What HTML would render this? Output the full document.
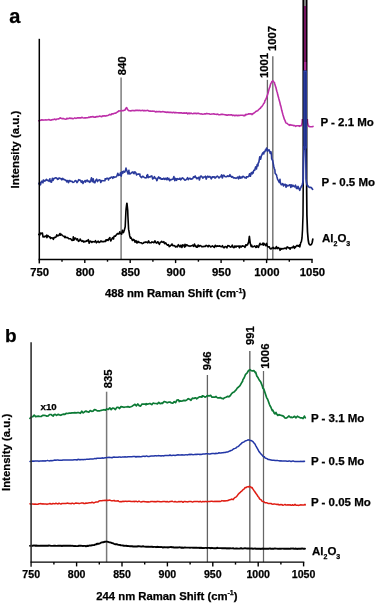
<!DOCTYPE html>
<html><head><meta charset="utf-8"><title>Raman spectra</title>
<style>
html,body{margin:0;padding:0;background:#fff;}
svg{display:block;}
text{fill:#000;}
</style></head>
<body>
<svg width="378" height="604" viewBox="0 0 378 604">
<rect width="378" height="604" fill="#fff"/>
<line x1="121.1" y1="77.5" x2="121.1" y2="259.5" stroke="#7c7c7c" stroke-width="1.5"/>
<line x1="267.4" y1="79.8" x2="267.4" y2="259.5" stroke="#636363" stroke-width="1.3"/>
<line x1="272.8" y1="56.3" x2="272.8" y2="259.5" stroke="#767676" stroke-width="1.5"/>
<polyline points="38.8,120.7 39.8,120.4 40.8,120.3 41.8,119.7 42.8,120.1 43.8,120.0 44.8,120.0 45.8,119.9 46.8,120.0 47.8,119.8 48.8,119.5 49.8,120.0 50.0,120.0 50.8,120.2 51.8,119.7 52.8,119.6 53.8,119.5 54.8,119.1 55.8,119.7 56.8,119.1 57.0,119.0 57.8,119.0 58.8,118.9 59.8,118.3 60.0,117.9 60.8,118.1 61.8,118.6 62.8,118.6 63.8,118.6 64.0,118.7 64.8,119.0 65.8,119.3 66.8,118.4 67.8,118.6 68.8,118.5 69.8,118.0 70.8,118.4 71.8,118.3 72.8,118.8 73.8,118.4 74.8,117.9 75.8,118.4 76.8,118.1 77.8,117.7 78.8,117.9 79.8,117.9 80.0,117.8 80.8,118.0 81.8,117.3 82.8,117.7 83.8,118.0 84.8,117.9 85.8,117.9 86.8,117.8 87.8,117.8 88.8,117.1 89.8,117.5 90.8,116.7 91.8,116.9 92.8,116.5 93.8,117.2 94.8,117.2 95.0,116.8 95.8,117.2 96.8,116.5 97.8,116.6 98.8,116.5 99.8,116.1 100.8,116.4 101.8,116.6 102.8,115.8 103.8,116.1 104.8,115.7 105.8,116.1 106.7,115.6 106.8,115.7 107.8,115.5 108.8,115.1 109.8,114.4 110.8,114.9 111.8,113.9 112.8,113.9 113.8,113.7 114.0,113.3 114.8,113.3 115.8,113.1 116.8,112.4 117.8,111.8 118.8,110.9 119.8,111.0 120.7,110.9 120.8,110.8 121.8,110.6 122.8,110.8 123.8,110.4 124.5,110.3 124.8,110.3 125.8,108.4 126.7,107.6 126.8,108.3 127.8,109.8 128.5,110.3 128.8,110.6 129.8,110.7 130.8,110.9 131.8,110.6 132.8,110.5 133.0,110.4 133.8,110.8 134.8,110.6 135.8,110.4 136.8,110.4 137.8,110.3 138.8,110.6 139.8,110.2 140.0,110.5 140.8,110.6 141.8,110.5 142.8,110.3 143.8,110.9 144.8,110.4 145.8,110.8 146.8,110.5 147.8,110.4 148.8,111.0 149.8,111.1 150.8,111.1 151.8,111.2 152.8,111.1 153.8,111.2 154.8,111.4 155.8,112.0 156.0,111.7 156.8,111.4 157.8,111.8 158.8,111.6 159.8,111.6 160.8,112.0 161.8,111.7 162.8,111.5 163.8,111.7 164.8,112.1 165.8,112.1 166.8,112.5 167.8,112.0 168.8,112.4 169.8,112.4 170.8,112.3 171.8,112.6 172.8,112.6 173.8,112.3 174.8,112.9 175.8,112.4 176.8,112.7 177.8,112.8 178.8,112.9 179.8,112.7 180.8,112.9 181.8,112.9 182.8,113.3 183.8,112.9 184.8,113.1 185.8,113.1 186.8,112.9 187.8,113.9 188.8,113.3 189.0,112.9 189.8,113.7 190.8,113.1 191.8,113.5 192.8,113.7 193.8,113.3 194.8,113.4 195.8,113.4 196.8,113.6 197.8,113.2 198.8,113.4 199.8,113.7 200.8,114.0 201.8,113.9 202.8,114.2 203.8,114.0 204.8,113.7 205.8,113.9 206.8,113.4 207.8,113.7 208.8,113.7 209.8,114.1 210.8,114.2 211.8,114.0 212.8,114.0 213.8,113.8 214.8,114.2 215.8,114.3 216.8,114.4 217.8,114.1 218.8,114.8 219.8,114.7 220.8,114.4 221.8,114.3 222.7,114.4 222.8,114.5 223.8,114.5 224.8,114.7 225.8,114.9 226.8,115.1 227.8,115.1 228.8,114.8 229.8,115.0 230.8,114.9 231.8,114.9 232.8,115.6 233.8,115.1 234.8,115.7 235.8,115.2 236.8,115.4 237.8,115.6 238.8,115.4 239.8,115.5 240.0,115.3 240.8,115.3 241.8,115.3 242.8,115.2 243.8,115.7 244.8,115.2 245.0,115.6 245.8,114.4 246.8,114.6 247.8,114.3 248.8,113.7 249.5,114.0 249.8,113.9 250.8,113.7 251.8,114.0 252.0,114.6 252.8,113.8 253.8,113.2 254.3,112.7 254.8,112.5 255.8,111.5 256.8,111.0 257.8,110.8 258.0,110.3 258.8,109.5 259.8,108.6 260.6,108.0 260.8,107.4 261.8,106.6 262.8,105.1 263.8,103.4 264.6,102.4 264.8,101.0 265.8,99.4 266.3,98.4 266.8,96.8 267.8,94.0 268.8,90.0 269.3,88.1 269.8,87.2 270.2,85.5 270.8,83.6 271.4,82.6 271.8,81.7 272.8,81.0 272.9,80.9 273.8,82.1 274.4,82.4 274.8,84.0 275.7,86.9 275.8,87.0 276.8,91.2 277.3,92.6 277.8,95.1 278.8,98.5 278.9,99.0 279.8,102.3 280.6,105.7 280.8,105.9 281.8,110.6 282.0,111.1 282.8,114.3 283.8,117.5 284.4,119.4 284.8,120.0 285.8,122.6 286.0,123.0 286.8,123.2 287.6,123.8 287.8,124.0 288.8,124.8 289.8,125.3 290.0,124.6 290.8,125.0 291.8,125.1 292.4,125.2 292.8,125.2 293.8,125.8 294.8,125.5 295.8,126.3 296.0,126.1 296.8,125.7 297.8,125.8 298.8,125.9 299.6,126.4 299.8,125.9 300.8,125.7" fill="none" stroke="#bd2fa8" stroke-width="1.6" stroke-linejoin="round" stroke-linecap="round" />
<polyline points="309.0,126.5 310.0,126.8 311.0,126.7 312.0,126.8 313.0,126.4" fill="none" stroke="#bd2fa8" stroke-width="1.6" stroke-linejoin="round" stroke-linecap="round" />
<polyline points="38.8,183.8 39.6,182.4 40.5,184.8 41.4,181.4 42.2,181.4 43.0,182.8 43.3,180.0 43.9,180.3 44.8,181.1 45.6,180.4 46.5,179.4 47.3,180.5 48.1,180.3 49.0,181.3 49.9,178.7 50.0,179.7 50.7,181.7 51.5,182.2 52.4,178.3 53.2,180.3 54.1,178.2 55.0,178.1 55.8,177.8 56.6,178.0 57.5,179.4 58.3,179.1 58.4,178.4 59.2,178.0 60.0,178.5 60.9,178.6 61.8,179.8 62.6,178.4 63.5,179.4 64.0,179.4 64.3,179.5 65.2,180.1 66.0,180.3 66.8,181.8 67.7,180.5 68.5,182.6 69.4,180.6 70.0,180.5 70.2,181.1 71.1,181.4 72.0,181.3 72.8,182.4 73.7,182.3 74.5,181.5 75.3,180.6 76.2,180.9 77.0,182.6 77.9,181.2 78.8,179.6 79.6,180.2 80.5,180.4 81.3,182.3 82.2,180.9 83.0,183.5 83.8,181.7 84.7,181.1 85.0,180.5 85.5,182.1 86.4,180.7 87.2,180.1 88.1,181.6 89.0,181.0 89.8,182.3 90.7,180.8 91.5,177.8 92.3,181.7 93.2,178.8 94.0,182.5 94.9,182.8 95.8,180.3 96.6,179.4 96.7,179.2 97.5,181.6 98.3,180.4 99.2,179.8 100.0,180.1 100.8,182.5 101.7,180.5 102.5,180.8 103.4,180.7 104.2,180.8 105.0,180.7 105.1,178.7 106.0,179.1 106.8,178.3 107.7,178.2 108.5,180.0 109.3,178.0 110.2,178.2 111.0,177.3 111.9,177.1 112.8,178.4 113.3,176.8 113.6,176.7 114.5,177.4 115.3,177.0 116.2,176.9 117.0,175.8 117.8,173.2 118.7,175.4 119.5,174.8 120.0,175.1 120.4,172.9 121.2,176.1 122.1,171.5 123.0,173.1 123.0,172.4 123.8,171.2 124.7,172.1 125.5,170.5 126.0,168.1 126.3,169.4 127.2,171.5 128.1,174.0 128.9,170.3 129.0,172.0 129.8,174.0 130.6,173.5 131.4,172.9 132.3,172.1 133.2,172.0 133.3,173.2 134.0,173.7 134.8,171.8 135.7,172.6 136.6,174.9 137.4,174.2 138.2,173.9 139.1,174.4 139.9,174.1 140.0,176.0 140.8,176.9 141.7,177.6 142.5,176.2 143.3,176.5 144.2,177.4 145.1,177.9 145.9,177.8 146.7,177.6 146.8,175.6 147.6,174.7 148.4,177.6 149.3,176.7 150.2,176.9 151.0,176.2 151.8,175.9 152.7,179.0 153.6,178.1 154.4,176.6 155.2,178.3 156.0,178.3 156.1,178.6 156.9,180.6 157.8,178.2 158.7,176.9 159.5,178.5 160.3,177.8 161.2,179.2 162.1,178.9 162.9,179.1 163.8,178.2 164.6,179.3 165.4,178.4 166.3,179.6 166.7,178.7 167.2,177.8 168.0,179.6 168.8,178.3 169.7,180.7 170.6,179.6 171.4,179.7 172.2,179.3 173.1,179.1 173.9,176.6 174.8,180.6 175.7,178.4 176.5,180.3 177.3,178.6 178.2,179.1 179.1,179.1 179.9,178.2 180.0,179.1 180.8,179.8 181.6,178.8 182.4,177.8 183.3,178.5 184.2,179.4 185.0,180.3 185.8,179.9 186.7,179.2 187.6,177.7 188.4,179.6 189.2,178.6 190.1,178.2 190.9,179.3 191.8,178.9 192.7,178.7 193.5,176.8 194.3,177.3 195.2,176.0 196.1,178.0 196.7,177.8 196.9,178.8 197.8,178.0 198.6,177.3 199.4,180.0 200.3,176.5 201.2,176.1 202.0,176.9 202.8,178.1 203.7,177.1 204.6,177.0 205.4,176.2 206.2,179.1 207.1,176.7 207.9,176.2 208.8,177.2 209.7,176.5 210.5,177.1 211.3,178.8 212.2,176.8 213.1,177.2 213.9,176.8 214.8,177.0 215.0,178.1 215.6,177.8 216.4,176.8 217.3,176.1 218.2,176.9 219.0,178.0 219.8,177.0 220.7,176.8 221.6,174.9 222.4,178.0 223.2,175.2 224.1,175.4 224.9,176.4 225.8,176.8 226.7,176.8 227.5,175.9 228.3,176.4 229.2,176.0 230.0,174.7 230.1,176.4 230.9,176.0 231.8,177.2 232.6,176.6 233.4,177.9 234.3,177.7 235.2,178.0 236.0,178.4 236.8,177.9 237.7,177.0 238.6,178.8 239.4,176.3 240.0,177.3 240.2,178.2 241.1,177.0 241.9,178.0 242.8,176.3 243.7,176.5 244.5,177.6 245.3,177.7 246.2,178.1 246.3,176.7 247.1,176.9 247.9,176.9 248.8,176.3 249.6,173.8 250.0,174.4 250.4,176.3 251.3,172.6 252.2,173.8 252.7,172.0 253.0,173.3 253.8,170.4 254.7,170.3 255.6,166.9 255.9,168.6 256.4,169.0 257.2,164.5 258.0,165.8 258.1,163.5 258.9,162.0 259.8,156.7 260.6,159.2 261.5,155.4 262.0,154.9 262.4,153.5 263.2,152.5 263.8,154.0 264.1,151.7 264.9,151.8 265.5,149.8 265.8,150.1 266.6,148.1 267.1,148.9 267.4,151.4 268.3,150.1 268.7,150.4 269.1,149.8 270.0,152.6 270.2,153.4 270.9,151.8 271.4,154.0 271.7,158.9 272.5,160.3 272.6,160.1 273.4,164.3 273.7,166.2 274.2,168.3 274.9,170.0 275.1,173.3 275.9,174.2 276.5,175.0 276.8,176.4 277.6,179.4 278.1,180.1 278.5,180.9 279.4,182.6 280.0,179.2 280.2,182.1 281.1,184.6 281.9,184.6 282.8,183.6 282.9,183.7 283.6,185.9 284.4,184.6 285.3,184.4 286.1,187.2 286.7,184.9 287.0,186.1 287.9,185.5 288.7,185.7 289.6,184.7 290.4,185.0 290.8,187.4 291.2,184.8 292.1,186.6 292.9,185.1 293.8,186.4 294.6,186.8 295.5,185.2 296.4,188.4 296.7,187.0 297.2,188.6 298.1,186.4 298.9,188.6 299.8,190.3 300.5,188.0" fill="none" stroke="#2a3a9c" stroke-width="1.6" stroke-linejoin="round" stroke-linecap="round" />
<polyline points="308.3,186.5 309.3,187.3 310.0,187.6 310.3,187.4 311.3,187.5 312.3,189.0 312.7,189.3" fill="none" stroke="#2a3a9c" stroke-width="1.6" stroke-linejoin="round" stroke-linecap="round" />
<polyline points="38.8,234.4 39.7,235.3 40.6,233.0 41.5,233.6 42.4,233.0 43.0,236.9 43.3,236.4 44.2,237.0 45.1,236.1 46.0,236.6 46.7,235.1 46.9,237.6 47.8,235.6 48.7,236.4 49.6,237.1 50.0,236.9 50.5,238.4 51.4,237.8 52.3,238.1 53.2,238.1 53.3,239.4 54.1,237.6 55.0,237.4 55.9,237.2 56.8,234.8 57.0,235.6 57.7,235.9 58.6,235.6 59.5,234.2 60.0,233.5 60.4,235.2 61.3,234.4 62.2,235.3 62.5,235.6 63.1,235.9 64.0,236.2 64.9,237.6 65.0,236.4 65.8,237.2 66.7,237.6 67.6,237.5 68.5,238.6 69.0,238.7 69.4,238.7 70.3,238.7 71.2,239.4 72.1,240.5 73.0,240.1 73.3,236.8 73.9,240.3 74.8,238.0 75.7,238.3 76.6,239.9 77.5,238.9 78.4,241.3 79.3,240.8 80.0,239.7 80.2,239.0 81.1,240.7 82.0,241.5 82.9,240.7 83.8,242.2 84.7,241.3 85.6,241.6 86.5,240.7 86.7,241.3 87.4,240.9 88.3,239.6 89.2,243.2 90.1,241.1 91.0,241.4 91.9,242.4 92.8,241.5 93.7,241.7 94.6,241.9 95.5,240.7 96.4,242.8 97.3,241.9 98.2,241.2 99.1,242.4 100.0,242.0 100.9,240.9 101.8,241.7 102.7,241.5 103.6,241.6 104.5,241.4 105.4,241.5 106.0,239.8 106.3,240.7 107.2,239.7 108.1,240.5 109.0,238.7 109.9,237.6 110.0,239.0 110.8,240.9 111.7,239.2 112.6,237.7 113.5,239.0 114.0,236.4 114.4,236.1 115.3,236.2 116.2,235.0 117.1,234.1 117.3,233.6 118.0,233.6 118.9,234.1 119.8,231.8 120.0,232.3 120.7,233.6 121.6,234.2 122.5,230.3 122.7,232.0 123.4,232.6 124.3,230.3 125.0,227.5 125.2,226.7 125.9,211.6 126.1,208.9 126.8,203.3 127.0,203.3 127.7,210.1 127.9,216.0 128.6,229.4 128.8,230.1 129.4,233.8 129.7,235.9 130.5,238.2 130.6,237.1 131.5,238.5 132.4,240.5 133.0,240.2 133.3,239.4 134.2,239.9 135.1,242.2 136.0,240.6 136.9,242.9 137.8,242.6 138.0,241.4 138.7,242.0 139.6,242.5 140.5,242.7 141.4,242.7 142.3,243.6 143.2,243.3 144.1,242.2 145.0,242.5 145.9,241.9 146.8,242.3 147.7,242.8 148.6,240.9 149.5,242.8 150.4,242.7 151.3,242.6 152.0,241.8 152.2,242.3 153.1,242.2 154.0,242.7 154.9,240.8 155.8,242.5 156.7,243.1 157.6,241.9 158.0,241.8 158.5,243.1 159.4,244.3 160.3,242.2 161.2,241.9 161.7,241.3 162.1,242.0 163.0,242.3 163.9,241.7 164.0,242.8 164.8,243.7 165.7,242.9 166.6,244.2 167.5,245.3 168.0,245.3 168.4,244.6 169.3,246.6 170.2,246.0 171.1,245.2 172.0,244.0 172.3,245.3 172.9,245.7 173.8,245.4 174.7,245.7 175.6,247.0 176.5,246.4 177.4,246.9 178.3,244.7 179.2,245.8 180.1,246.9 181.0,245.2 181.9,247.4 182.8,244.8 183.7,245.4 184.6,247.1 185.0,244.2 185.5,246.5 186.4,244.9 187.3,245.0 188.2,246.0 189.1,245.9 190.0,246.4 190.9,245.9 191.8,245.8 192.7,245.1 193.6,246.3 194.5,244.1 195.4,246.6 196.3,246.2 196.7,247.2 197.2,247.2 198.1,245.0 199.0,246.6 199.9,245.5 200.8,245.8 201.7,246.8 202.6,246.6 203.5,246.6 204.4,246.2 205.3,246.4 206.2,245.4 207.1,245.8 208.0,246.8 208.9,245.4 209.8,245.9 210.7,247.0 211.6,246.4 212.5,245.8 213.4,246.7 214.3,247.5 215.0,245.7 215.2,245.3 216.1,246.6 217.0,245.8 217.9,246.3 218.8,246.1 219.7,245.9 220.6,246.5 221.5,246.7 222.4,245.7 223.3,247.4 224.2,247.7 225.1,246.5 226.0,246.8 226.9,247.8 227.8,245.6 228.7,245.8 229.6,246.3 230.0,246.6 230.5,247.1 231.4,246.8 232.3,245.1 233.2,247.5 234.1,247.6 235.0,245.9 235.9,247.1 236.8,246.1 237.7,246.3 238.6,246.1 239.5,247.9 240.0,245.9 240.4,246.6 241.3,247.0 242.2,245.8 243.1,246.2 244.0,246.1 244.9,247.4 245.8,244.7 246.7,245.4 247.6,244.6 248.3,242.7 248.5,243.0 249.3,236.6 249.4,236.4 250.3,243.6 251.2,246.4 251.7,245.3 252.1,246.8 253.0,246.9 253.9,246.4 254.8,245.9 255.7,247.4 256.6,247.2 256.7,245.9 257.5,246.1 258.4,247.4 259.3,244.9 260.0,243.3 260.2,244.6 261.1,244.5 262.0,244.4 262.9,243.2 263.3,245.1 263.8,243.2 264.7,244.2 265.6,245.6 266.0,245.1 266.5,243.4 267.4,246.6 268.3,246.9 269.2,246.7 270.1,248.6 271.0,249.0 271.9,248.1 272.8,247.6 273.3,247.4 273.7,248.6 274.6,248.3 275.5,248.6 276.4,246.6 277.3,248.6 278.2,247.6 279.1,248.2 280.0,250.3 280.9,248.4 281.8,249.2 282.7,248.6 283.6,248.8 284.5,248.3 285.4,248.0 286.3,248.9 287.2,246.9 288.1,247.4 289.0,248.2 289.9,247.8 290.0,249.3 290.8,247.7 291.7,247.5 292.6,247.7 293.5,246.1 294.4,248.3 295.0,246.8 295.3,247.5 296.2,246.1 297.1,245.4 298.0,246.1 298.3,245.8 298.9,246.1 299.5,244.8 299.8,246.9 300.5,243.9 300.7,242.5 301.3,242.0" fill="none" stroke="#000" stroke-width="1.6" stroke-linejoin="round" stroke-linecap="round" />
<polyline points="300.8,126.1 301.6,125 302.1,122.6 302.3,119" fill="none" stroke="#bd2fa8" stroke-width="1.5" stroke-linejoin="round"/>
<polyline points="307.4,119 307.6,122.6 308.2,125.3 309.0,126.5" fill="none" stroke="#bd2fa8" stroke-width="1.5" stroke-linejoin="round"/>
<rect x="303.5" y="0" width="2.7" height="150" fill="#000"/>
<polyline points="303.2,-1 303.2,190 303.0,215 302.5,230 302.0,238 301.3,242" fill="none" stroke="#000" stroke-width="1.55" stroke-linejoin="round"/>
<polyline points="306.65,-1 306.65,190 306.9,215 307.5,232 308.2,240 308.8,243.4 309.5,244.6 310.5,244.9 311.5,244.3 312.2,242.5 312.8,239.2" fill="none" stroke="#000" stroke-width="1.7" stroke-linejoin="round" stroke-linecap="round"/>
<rect x="304.1" y="0" width="1.8" height="6" fill="#8a8a8a"/>
<rect x="304.0" y="6" width="2.1" height="56" fill="#74155f"/>
<rect x="304.0" y="62" width="2.3" height="8.5" fill="#a82a92"/>
<rect x="303.4" y="70.5" width="3.4" height="78" fill="#3148b4"/>
<rect x="304.7" y="72" width="0.9" height="76" fill="#1a2272"/>
<polyline points="304.1,146 303.6,158 303.3,170 303.2,179 302.9,182.5 302.3,184.8 301.5,186.5 300.5,187.6" fill="none" stroke="#2a3a9c" stroke-width="1.8" stroke-linejoin="round"/>
<polyline points="305.5,146 305.8,158 306.0,170 306.1,179 306.5,182.5 307.2,185 308.3,186.6" fill="none" stroke="#2a3a9c" stroke-width="1.7" stroke-linejoin="round"/>
<line x1="39.3" y1="38.8" x2="39.3" y2="263.4" stroke="#000" stroke-width="1.5"/>
<line x1="38.599999999999994" y1="259.5" x2="312.7" y2="259.5" stroke="#000" stroke-width="1.4"/>
<line x1="62.0" y1="259.5" x2="62.0" y2="261.7" stroke="#000" stroke-width="1.4"/>
<line x1="84.8" y1="259.5" x2="84.8" y2="263.1" stroke="#000" stroke-width="1.4"/>
<line x1="107.5" y1="259.5" x2="107.5" y2="261.7" stroke="#000" stroke-width="1.4"/>
<line x1="130.2" y1="259.5" x2="130.2" y2="263.1" stroke="#000" stroke-width="1.4"/>
<line x1="152.9" y1="259.5" x2="152.9" y2="261.7" stroke="#000" stroke-width="1.4"/>
<line x1="175.6" y1="259.5" x2="175.6" y2="263.1" stroke="#000" stroke-width="1.4"/>
<line x1="198.4" y1="259.5" x2="198.4" y2="261.7" stroke="#000" stroke-width="1.4"/>
<line x1="221.1" y1="259.5" x2="221.1" y2="263.1" stroke="#000" stroke-width="1.4"/>
<line x1="243.8" y1="259.5" x2="243.8" y2="261.7" stroke="#000" stroke-width="1.4"/>
<line x1="266.6" y1="259.5" x2="266.6" y2="263.1" stroke="#000" stroke-width="1.4"/>
<line x1="289.3" y1="259.5" x2="289.3" y2="261.7" stroke="#000" stroke-width="1.4"/>
<line x1="312.0" y1="259.5" x2="312.0" y2="263.1" stroke="#000" stroke-width="1.4"/>
<text x="39.7" y="276.2" font-size="11.3" text-anchor="middle" font-family="'Liberation Sans', Arial, Helvetica, sans-serif" font-weight="bold" stroke="#000" stroke-width="0.25">750</text>
<text x="85.2" y="276.2" font-size="11.3" text-anchor="middle" font-family="'Liberation Sans', Arial, Helvetica, sans-serif" font-weight="bold" stroke="#000" stroke-width="0.25">800</text>
<text x="130.6" y="276.2" font-size="11.3" text-anchor="middle" font-family="'Liberation Sans', Arial, Helvetica, sans-serif" font-weight="bold" stroke="#000" stroke-width="0.25">850</text>
<text x="176.0" y="276.2" font-size="11.3" text-anchor="middle" font-family="'Liberation Sans', Arial, Helvetica, sans-serif" font-weight="bold" stroke="#000" stroke-width="0.25">900</text>
<text x="221.5" y="276.2" font-size="11.3" text-anchor="middle" font-family="'Liberation Sans', Arial, Helvetica, sans-serif" font-weight="bold" stroke="#000" stroke-width="0.25">950</text>
<text x="266.9" y="276.2" font-size="11.3" text-anchor="middle" font-family="'Liberation Sans', Arial, Helvetica, sans-serif" font-weight="bold" stroke="#000" stroke-width="0.25">1000</text>
<text x="312.4" y="276.2" font-size="11.3" text-anchor="middle" font-family="'Liberation Sans', Arial, Helvetica, sans-serif" font-weight="bold" stroke="#000" stroke-width="0.25">1050</text>
<text x="175.5" y="297" font-size="11.3" text-anchor="middle" font-family="'Liberation Sans', Arial, Helvetica, sans-serif" font-weight="bold" stroke="#000" stroke-width="0.25">488 nm Raman Shift (cm<tspan font-size="7" dy="-4.5">-1</tspan><tspan dy="4.5">)</tspan></text>
<text transform="translate(18.6,149.6) rotate(-90)" font-size="11.5" text-anchor="middle" font-family="'Liberation Sans', Arial, Helvetica, sans-serif" font-weight="bold" stroke="#000" stroke-width="0.25">Intensity (a.u.)</text>
<text x="9.3" y="23.1" font-size="20" font-family="'Liberation Sans', Arial, Helvetica, sans-serif" font-weight="bold" stroke="#000" stroke-width="0.25">a</text>
<text transform="translate(126.1,75.2) rotate(-90)" font-size="11.3" font-family="'Liberation Sans', Arial, Helvetica, sans-serif" font-weight="bold" stroke="#000" stroke-width="0.25">840</text>
<text transform="translate(268.1,78) rotate(-90)" font-size="11.3" font-family="'Liberation Sans', Arial, Helvetica, sans-serif" font-weight="bold" stroke="#000" stroke-width="0.25">1001</text>
<text transform="translate(276.0,51.0) rotate(-90)" font-size="11.3" font-family="'Liberation Sans', Arial, Helvetica, sans-serif" font-weight="bold" stroke="#000" stroke-width="0.25">1007</text>
<text x="320.4" y="126.4" font-size="11.5" font-family="'Liberation Sans', Arial, Helvetica, sans-serif" font-weight="bold" stroke="#000" stroke-width="0.25">P - 2.1 Mo</text>
<text x="321.6" y="186.0" font-size="11.5" font-family="'Liberation Sans', Arial, Helvetica, sans-serif" font-weight="bold" stroke="#000" stroke-width="0.25">P - 0.5 Mo</text>
<text x="322" y="242.4" font-size="11.5" font-family="'Liberation Sans', Arial, Helvetica, sans-serif" font-weight="bold" stroke="#000" stroke-width="0.25">Al<tspan font-size="7" dy="3.8">2</tspan><tspan dy="-3.8">O</tspan><tspan font-size="7" dy="3.8">3</tspan></text>
<line x1="106.6" y1="391.7" x2="106.6" y2="562.1" stroke="#787878" stroke-width="1.5"/>
<line x1="207.4" y1="375" x2="207.4" y2="562.1" stroke="#636363" stroke-width="1.3"/>
<line x1="249.8" y1="351" x2="249.8" y2="562.1" stroke="#767676" stroke-width="1.6"/>
<line x1="263.5" y1="371" x2="263.5" y2="562.1" stroke="#666" stroke-width="1.25"/>
<polyline points="30.0,418.4 31.4,417.0 32.8,416.7 34.2,415.2 35.6,416.7 37.0,416.4 38.4,416.1 39.8,416.5 41.2,416.5 42.6,415.4 44.0,415.3 45.4,415.5 46.8,416.1 48.2,415.9 49.6,414.5 51.0,414.5 52.4,415.6 53.3,416.0 53.8,414.9 55.2,414.4 56.6,415.4 58.0,414.3 59.4,414.9 60.8,415.3 62.2,414.5 63.6,414.1 65.0,414.3 66.4,413.3 67.8,413.5 69.2,413.1 70.6,413.2 72.0,412.9 73.4,412.9 74.8,412.7 76.2,412.8 77.6,412.7 79.0,412.7 80.4,413.3 81.8,411.2 83.2,412.9 84.6,411.8 86.0,411.0 86.7,411.6 87.4,411.7 88.8,412.2 90.2,410.6 91.6,411.3 93.0,411.1 94.4,409.7 95.8,409.9 97.2,410.9 98.6,410.8 100.0,410.8 101.4,410.3 102.8,410.0 104.2,409.7 105.6,410.2 106.7,408.8 107.0,409.2 108.4,409.3 109.8,407.9 111.2,409.6 112.6,408.0 114.0,408.3 115.4,409.5 116.8,407.4 118.2,407.4 119.6,408.5 121.0,406.6 122.4,406.9 123.8,407.3 125.2,407.0 126.6,406.9 128.0,406.6 129.4,407.1 130.8,406.7 132.2,406.2 133.3,405.3 133.6,405.2 135.0,404.3 136.4,405.8 137.8,404.0 139.2,405.6 140.6,406.1 142.0,404.0 143.4,404.1 144.8,404.1 146.0,404.8 146.2,403.7 147.6,404.1 149.0,403.7 150.4,403.7 151.8,404.6 153.2,403.0 154.6,403.5 156.0,403.5 157.4,403.8 158.8,402.3 160.2,403.7 161.6,403.1 162.7,403.3 163.0,402.7 164.4,401.5 165.8,402.0 167.2,402.8 168.6,402.2 170.0,402.0 171.4,403.0 172.8,403.2 174.2,401.6 175.6,402.7 177.0,400.0 178.4,399.8 179.3,401.6 179.8,400.8 181.2,401.1 182.6,400.9 184.0,400.3 185.4,400.6 186.8,400.0 188.2,398.6 189.6,399.5 190.0,399.4 191.0,400.3 192.4,398.1 193.8,398.5 195.2,397.9 196.0,397.9 196.6,398.9 198.0,397.8 199.4,396.9 200.8,396.9 202.0,397.1 202.2,395.9 203.6,396.1 205.0,397.1 206.4,396.5 207.0,395.9 207.8,395.6 209.2,396.0 210.6,395.3 212.0,397.2 213.4,397.1 214.8,397.2 216.0,396.5 216.2,396.9 217.6,397.9 219.0,397.9 220.4,397.6 221.8,398.4 223.2,398.8 224.3,397.8 224.6,397.8 226.0,397.3 227.4,396.4 228.8,396.8 229.3,396.3 230.2,395.7 231.6,393.6 233.0,392.4 234.4,391.7 235.8,390.0 236.0,390.1 237.2,388.1 238.6,387.0 240.0,385.6 241.4,383.1 242.7,381.0 242.8,379.9 244.2,377.8 245.6,374.3 247.0,373.1 248.4,370.7 249.8,369.8 250.0,369.7 251.2,370.7 252.6,370.8 253.0,370.9 254.0,370.6 255.4,372.8 255.7,372.2 256.8,376.0 258.1,377.8 258.2,378.2 259.6,380.7 260.5,381.5 261.0,382.6 262.4,386.3 262.9,388.4 263.8,389.0 265.2,393.3 266.6,397.6 267.6,399.2 268.0,400.2 269.4,404.3 270.0,405.8 270.8,407.0 272.2,410.5 272.4,409.7 273.6,411.7 274.2,413.1 275.0,413.9 276.0,412.5 276.4,413.5 277.8,415.4 279.2,414.6 280.0,415.2 280.6,415.2 282.0,415.6 283.4,416.1 284.3,417.1 284.8,417.9 286.2,418.1 287.6,417.2 289.0,416.0 290.4,417.3 291.8,417.2 292.0,417.6 293.2,417.3 294.6,416.3 296.0,417.8 297.4,416.2 298.8,417.1 300.2,417.8 301.6,417.8 303.0,418.6 304.4,416.1 305.3,417.8" fill="none" stroke="#0c7a35" stroke-width="1.7" stroke-linejoin="round" stroke-linecap="round" />
<polyline points="30.0,461.4 31.0,461.2 32.0,461.3 33.0,461.0 34.0,461.3 35.0,460.9 36.0,461.1 37.0,461.1 38.0,460.9 39.0,461.4 40.0,460.9 41.0,461.0 42.0,461.1 43.0,460.7 44.0,461.1 45.0,460.8 46.0,460.9 47.0,460.6 48.0,460.6 49.0,460.9 50.0,460.7 51.0,460.6 52.0,460.7 53.0,460.6 54.0,460.3 55.0,460.1 56.0,460.2 57.0,460.1 58.0,460.0 59.0,460.2 60.0,460.2 61.0,460.3 62.0,460.3 63.0,460.1 64.0,460.1 65.0,460.1 66.0,459.9 67.0,460.0 68.0,460.0 69.0,459.9 70.0,459.9 71.0,459.9 72.0,460.1 73.0,459.9 74.0,459.8 75.0,459.7 76.0,459.7 77.0,460.1 78.0,459.2 79.0,459.7 80.0,459.6 81.0,459.7 82.0,459.4 83.0,459.8 84.0,459.6 85.0,459.4 86.0,459.4 86.7,459.2 87.0,459.3 88.0,459.2 89.0,459.3 90.0,459.1 91.0,459.0 92.0,459.0 93.0,458.9 94.0,458.8 95.0,458.4 96.0,458.7 97.0,458.3 98.0,458.2 99.0,458.3 100.0,458.3 101.0,458.3 102.0,457.8 103.0,458.2 104.0,458.1 105.0,457.7 106.0,457.7 106.7,457.6 107.0,457.6 108.0,457.4 109.0,457.3 110.0,457.5 111.0,457.5 112.0,457.7 113.0,457.3 114.0,457.1 115.0,457.3 116.0,457.2 117.0,457.3 118.0,457.2 119.0,457.0 120.0,457.0 121.0,457.2 122.0,457.1 123.0,456.9 124.0,457.1 125.0,456.8 126.0,456.9 127.0,456.9 128.0,456.7 129.0,456.7 130.0,456.8 131.0,456.8 132.0,456.7 133.0,456.6 134.0,456.5 135.0,456.5 136.0,457.1 137.0,456.5 138.0,456.8 139.0,456.5 140.0,456.7 141.0,456.7 142.0,456.5 143.0,456.3 144.0,456.2 145.0,456.5 146.0,456.1 147.0,456.1 148.0,456.5 149.0,456.4 150.0,456.2 151.0,456.1 152.0,456.0 153.0,456.1 154.0,455.9 155.0,455.7 156.0,455.8 157.0,455.9 158.0,455.6 159.0,455.7 160.0,455.8 161.0,456.0 162.0,455.7 163.0,455.7 164.0,455.9 165.0,455.4 166.0,455.4 167.0,455.6 168.0,455.6 169.0,455.5 170.0,455.0 171.0,455.5 172.0,455.4 173.0,455.3 174.0,455.3 175.0,455.4 176.0,455.2 177.0,455.0 178.0,454.8 179.0,455.0 180.0,454.9 181.0,454.9 182.0,454.8 183.0,454.9 184.0,455.0 185.0,454.9 186.0,454.6 187.0,454.9 188.0,454.8 189.0,454.3 190.0,454.7 191.0,454.3 192.0,454.4 193.0,454.7 194.0,454.6 195.0,454.4 196.0,454.3 197.0,454.5 198.0,454.1 199.0,454.4 200.0,454.2 201.0,454.4 202.0,454.2 203.0,454.0 204.0,454.1 205.0,454.0 206.0,453.8 207.0,453.8 208.0,453.8 209.0,453.9 210.0,453.9 211.0,453.7 212.0,453.5 213.0,453.6 214.0,453.6 215.0,453.7 216.0,453.3 217.0,453.4 218.0,453.2 219.0,452.8 220.0,452.9 221.0,452.9 222.0,452.8 223.0,452.7 224.0,452.5 225.0,452.5 226.0,452.2 227.0,451.9 228.0,451.9 229.0,451.3 230.0,451.1 231.0,450.4 232.0,450.2 233.0,449.3 234.0,448.7 235.0,448.4 236.0,448.0 237.0,446.9 238.0,446.6 239.0,445.8 240.0,444.8 241.0,443.9 242.0,442.8 242.7,442.5 243.0,442.4 244.0,441.9 245.0,441.2 246.0,440.7 247.0,440.4 248.0,439.8 248.7,440.1 249.0,439.9 250.0,440.4 251.0,440.6 251.5,440.7 252.0,441.0 253.0,441.7 254.0,443.0 254.3,443.1 255.0,444.2 256.0,446.1 257.0,447.8 258.0,449.7 259.0,451.7 259.3,451.8 260.0,452.8 261.0,453.9 262.0,455.0 263.0,456.3 264.0,456.9 264.3,456.8 265.0,457.8 266.0,458.3 267.0,458.6 268.0,459.4 269.0,459.5 270.0,459.7 271.0,459.9 272.0,460.3 273.0,460.2 274.0,460.3 275.0,460.4 276.0,460.5 277.0,460.4 278.0,460.6 279.0,460.7 280.0,461.0 281.0,460.7 282.0,461.1 282.7,460.9 283.0,460.9 284.0,461.0 285.0,461.1 286.0,461.1 287.0,461.2 288.0,461.2 289.0,461.0 290.0,461.1 291.0,461.5 292.0,461.2 293.0,460.9 294.0,461.3 295.0,461.6 296.0,461.5 297.0,461.4 298.0,461.4 299.0,461.5 300.0,461.4 301.0,461.3 302.0,461.6 303.0,461.3 304.0,461.6 304.5,461.2" fill="none" stroke="#2236a6" stroke-width="1.5" stroke-linejoin="round" stroke-linecap="round" />
<polyline points="30.0,503.8 31.0,504.2 32.0,504.0 33.0,504.1 34.0,504.3 35.0,504.1 36.0,504.3 37.0,504.2 38.0,504.3 39.0,503.7 40.0,503.7 41.0,503.6 42.0,504.0 43.0,503.8 44.0,504.1 45.0,503.9 46.0,503.9 47.0,504.4 48.0,503.9 49.0,503.8 50.0,503.5 51.0,504.0 52.0,504.0 53.0,503.4 54.0,503.7 55.0,503.7 56.0,503.3 57.0,503.6 58.0,504.0 59.0,503.2 60.0,503.7 61.0,504.1 62.0,503.4 63.0,503.4 64.0,503.6 65.0,503.6 66.0,503.6 67.0,503.1 68.0,503.3 69.0,503.5 70.0,503.4 71.0,503.7 72.0,503.3 73.0,503.3 74.0,503.8 75.0,503.3 76.0,503.1 77.0,503.3 78.0,503.2 79.0,503.4 80.0,503.4 81.0,503.1 82.0,503.1 83.0,503.0 84.0,503.5 85.0,503.6 86.0,503.0 87.0,503.2 88.0,503.1 89.0,502.8 90.0,502.7 91.0,502.7 92.0,502.3 93.0,502.5 93.3,502.8 94.0,502.9 95.0,502.4 96.0,502.0 97.0,502.0 98.0,502.0 99.0,501.0 100.0,500.8 101.0,500.7 102.0,500.8 103.0,500.4 104.0,500.6 105.0,500.2 106.0,500.5 106.7,500.2 107.0,500.2 108.0,500.5 109.0,500.1 110.0,500.2 111.0,500.7 112.0,500.8 113.0,500.8 114.0,500.3 115.0,501.1 116.0,501.1 117.0,501.0 118.0,500.7 119.0,501.5 120.0,501.7 121.0,501.5 122.0,501.7 123.0,501.2 124.0,501.5 125.0,501.3 126.0,501.2 127.0,501.4 128.0,501.3 129.0,501.3 130.0,501.3 131.0,501.5 132.0,501.5 133.0,501.6 134.0,501.3 135.0,501.7 136.0,501.2 137.0,501.7 138.0,501.7 139.0,501.1 140.0,501.6 141.0,502.0 142.0,501.8 143.0,501.6 144.0,501.6 145.0,501.8 146.0,501.7 147.0,501.9 148.0,501.7 149.0,501.9 150.0,501.8 151.0,501.5 152.0,501.4 153.0,501.6 154.0,501.8 155.0,501.5 156.0,501.9 157.0,501.3 158.0,501.6 159.0,501.5 160.0,501.8 161.0,501.7 162.0,501.7 163.0,501.4 164.0,501.5 165.0,501.5 166.0,501.9 167.0,501.5 168.0,501.8 169.0,501.9 170.0,501.5 171.0,501.6 172.0,501.1 173.0,501.6 174.0,501.9 175.0,501.5 176.0,501.8 177.0,501.9 178.0,501.8 179.0,501.6 180.0,501.8 181.0,501.5 182.0,501.6 183.0,502.3 184.0,501.6 185.0,501.5 186.0,501.7 187.0,501.8 188.0,501.9 189.0,501.5 190.0,501.4 191.0,501.4 192.0,501.9 193.0,501.9 194.0,501.5 195.0,501.5 196.0,501.6 197.0,501.4 198.0,501.5 199.0,501.9 200.0,501.3 201.0,501.7 202.0,501.9 203.0,501.3 204.0,501.8 205.0,501.6 206.0,501.4 207.0,501.8 208.0,501.5 209.0,501.5 210.0,501.4 211.0,501.3 212.0,501.3 213.0,501.4 214.0,501.6 215.0,501.3 216.0,501.4 217.0,501.2 218.0,501.4 219.0,501.2 220.0,501.5 221.0,501.2 222.0,500.6 223.0,500.9 224.0,500.8 225.0,501.0 226.0,500.7 227.0,500.8 228.0,500.6 229.0,500.0 230.0,499.8 231.0,499.6 232.0,499.0 233.0,499.7 234.0,498.6 234.3,498.0 235.0,497.5 236.0,497.1 237.0,496.0 238.0,494.6 239.0,493.4 240.0,492.7 241.0,491.6 242.0,490.8 243.0,489.7 244.0,489.1 245.0,487.6 246.0,487.7 247.0,486.9 248.0,486.6 249.0,487.0 249.3,486.2 250.0,486.8 251.0,487.1 251.5,487.8 252.0,487.5 253.0,489.2 254.0,490.7 254.3,491.0 255.0,492.0 256.0,493.5 257.0,494.8 258.0,496.5 259.0,497.5 259.3,498.5 260.0,499.3 261.0,499.7 262.0,501.2 263.0,501.6 264.0,501.8 264.3,502.1 265.0,502.7 266.0,502.8 267.0,502.8 268.0,503.4 269.0,503.4 270.0,503.5 271.0,503.5 272.0,504.0 273.0,504.2 274.0,503.9 275.0,504.1 276.0,504.2 277.0,504.4 278.0,504.2 279.0,505.0 280.0,504.6 281.0,504.8 282.0,504.6 283.0,505.3 284.0,504.9 285.0,504.4 286.0,505.1 287.0,504.9 288.0,504.7 289.0,504.9 290.0,504.8 291.0,505.2 292.0,505.2 292.7,504.7 293.0,505.2 294.0,505.3 295.0,504.4 296.0,505.3 297.0,505.2 298.0,505.2 299.0,505.4 300.0,505.0 301.0,504.8 302.0,505.1 303.0,505.0 304.0,505.1 305.0,504.4 305.3,504.9" fill="none" stroke="#df1c12" stroke-width="1.5" stroke-linejoin="round" stroke-linecap="round" />
<polyline points="30.0,545.9 31.0,545.7 32.0,545.7 33.0,545.7 34.0,545.4 35.0,545.7 36.0,545.5 37.0,545.7 38.0,545.6 39.0,545.9 40.0,545.7 41.0,545.7 42.0,545.6 43.0,545.8 44.0,545.7 45.0,545.8 46.0,545.8 47.0,545.8 48.0,545.7 49.0,545.5 50.0,545.6 51.0,545.9 52.0,545.9 53.0,545.9 54.0,545.7 55.0,545.6 56.0,545.9 57.0,545.9 58.0,545.8 59.0,545.8 60.0,545.6 61.0,545.8 62.0,546.0 63.0,545.7 64.0,545.8 65.0,545.8 66.0,545.8 67.0,545.6 68.0,545.8 69.0,545.8 70.0,545.8 71.0,545.8 72.0,545.9 73.0,545.8 74.0,546.1 75.0,545.9 76.0,546.1 77.0,546.1 78.0,546.0 79.0,545.8 80.0,545.7 81.0,545.8 82.0,545.9 83.0,546.0 84.0,545.9 85.0,545.9 86.0,546.4 86.7,546.0 87.0,545.8 88.0,546.0 89.0,545.7 90.0,545.4 91.0,545.6 92.0,545.2 93.0,545.1 94.0,545.1 95.0,544.6 96.0,544.3 96.7,544.4 97.0,543.8 98.0,543.7 99.0,543.7 100.0,543.3 101.0,542.7 102.0,542.4 103.0,542.3 104.0,542.0 105.0,541.8 106.0,541.6 107.0,541.6 108.0,541.9 109.0,542.2 110.0,542.4 111.0,542.7 112.0,543.1 113.0,543.2 114.0,543.8 115.0,544.2 116.0,544.1 117.0,544.3 118.0,544.7 119.0,544.9 120.0,545.0 121.0,545.4 122.0,545.4 123.0,545.5 124.0,545.9 125.0,545.8 126.0,545.9 126.7,545.7 127.0,546.0 128.0,546.0 129.0,546.1 130.0,546.3 131.0,546.3 132.0,546.1 133.0,546.5 134.0,546.4 135.0,546.5 136.0,546.4 137.0,546.5 138.0,546.3 139.0,546.3 140.0,546.4 141.0,546.5 142.0,546.6 143.0,546.2 144.0,546.6 145.0,546.6 146.0,546.8 147.0,546.6 148.0,546.7 149.0,546.8 150.0,546.9 151.0,546.6 152.0,546.7 153.0,547.0 154.0,546.9 155.0,546.9 156.0,547.2 157.0,546.8 158.0,547.0 159.0,547.0 160.0,547.1 161.0,547.0 162.0,547.1 163.0,547.5 164.0,547.2 165.0,547.2 166.0,547.4 167.0,547.3 168.0,547.5 169.0,547.2 170.0,547.1 171.0,547.0 172.0,547.2 173.0,547.1 174.0,547.6 175.0,547.4 176.0,547.5 177.0,547.5 178.0,547.5 179.0,547.4 180.0,547.3 181.0,547.7 182.0,547.5 183.0,547.8 184.0,547.7 185.0,547.4 186.0,547.6 187.0,547.6 188.0,547.6 189.0,547.6 190.0,547.7 191.0,547.6 192.0,547.6 193.0,547.8 194.0,547.8 195.0,547.7 196.0,547.8 197.0,547.8 198.0,547.9 199.0,547.8 200.0,548.0 201.0,547.6 202.0,548.1 203.0,547.9 204.0,548.1 205.0,547.9 206.0,547.9 207.0,548.0 208.0,547.9 209.0,547.9 210.0,548.0 211.0,548.2 212.0,547.8 213.0,548.1 214.0,548.3 215.0,548.1 216.0,548.3 217.0,547.8 218.0,548.0 219.0,548.1 220.0,548.1 221.0,548.1 222.0,548.3 223.0,548.1 224.0,548.3 225.0,548.3 226.0,548.2 227.0,548.6 228.0,548.2 229.0,548.6 230.0,548.2 231.0,548.4 232.0,548.4 233.0,548.3 234.0,548.5 235.0,548.6 236.0,548.5 237.0,548.5 238.0,548.6 239.0,548.6 240.0,548.5 241.0,548.1 242.0,548.5 243.0,548.6 244.0,548.4 245.0,548.2 246.0,548.4 247.0,548.5 248.0,548.4 249.0,548.5 250.0,548.6 251.0,548.5 252.0,548.5 253.0,548.8 254.0,548.6 255.0,548.5 256.0,548.7 257.0,548.7 258.0,548.7 259.0,548.7 260.0,548.6 261.0,549.0 262.0,548.5 263.0,548.7 264.0,548.8 265.0,548.8 266.0,548.6 267.0,548.7 268.0,548.6 269.0,548.7 270.0,548.4 271.0,548.9 272.0,548.7 273.0,548.8 274.0,548.7 275.0,548.4 276.0,548.6 277.0,548.6 278.0,548.9 279.0,548.7 280.0,548.8 281.0,548.7 282.0,548.6 283.0,548.6 284.0,548.8 285.0,548.8 286.0,548.6 287.0,548.7 288.0,548.7 289.0,548.8 290.0,548.9 291.0,548.5 292.0,548.6 293.0,548.4 294.0,548.9 295.0,548.7 296.0,548.5 297.0,549.0 298.0,548.7 299.0,548.7 300.0,548.7 301.0,548.8 302.0,548.4 303.0,548.7 304.0,548.8 305.0,548.7" fill="none" stroke="#000" stroke-width="1.9" stroke-linejoin="round" stroke-linecap="round" />
<line x1="31.1" y1="342.2" x2="31.1" y2="566.7" stroke="#333" stroke-width="1.6"/>
<line x1="30.5" y1="562.1" x2="304.3" y2="562.1" stroke="#000" stroke-width="1.4"/>
<line x1="53.9" y1="562.1" x2="53.9" y2="564.6" stroke="#000" stroke-width="1.4"/>
<line x1="76.6" y1="562.1" x2="76.6" y2="566.4" stroke="#000" stroke-width="1.4"/>
<line x1="99.3" y1="562.1" x2="99.3" y2="564.6" stroke="#000" stroke-width="1.4"/>
<line x1="122.0" y1="562.1" x2="122.0" y2="566.4" stroke="#000" stroke-width="1.4"/>
<line x1="144.7" y1="562.1" x2="144.7" y2="564.6" stroke="#000" stroke-width="1.4"/>
<line x1="167.4" y1="562.1" x2="167.4" y2="566.4" stroke="#000" stroke-width="1.4"/>
<line x1="190.1" y1="562.1" x2="190.1" y2="564.6" stroke="#000" stroke-width="1.4"/>
<line x1="212.8" y1="562.1" x2="212.8" y2="566.4" stroke="#000" stroke-width="1.4"/>
<line x1="235.5" y1="562.1" x2="235.5" y2="564.6" stroke="#000" stroke-width="1.4"/>
<line x1="258.2" y1="562.1" x2="258.2" y2="566.4" stroke="#000" stroke-width="1.4"/>
<line x1="280.9" y1="562.1" x2="280.9" y2="564.6" stroke="#000" stroke-width="1.4"/>
<line x1="303.6" y1="562.1" x2="303.6" y2="566.4" stroke="#000" stroke-width="1.4"/>
<text x="31.2" y="578.4" font-size="10.6" text-anchor="middle" font-family="'Liberation Sans', Arial, Helvetica, sans-serif" font-weight="bold" stroke="#000" stroke-width="0.25">750</text>
<text x="76.6" y="578.4" font-size="10.6" text-anchor="middle" font-family="'Liberation Sans', Arial, Helvetica, sans-serif" font-weight="bold" stroke="#000" stroke-width="0.25">800</text>
<text x="122.0" y="578.4" font-size="10.6" text-anchor="middle" font-family="'Liberation Sans', Arial, Helvetica, sans-serif" font-weight="bold" stroke="#000" stroke-width="0.25">850</text>
<text x="167.4" y="578.4" font-size="10.6" text-anchor="middle" font-family="'Liberation Sans', Arial, Helvetica, sans-serif" font-weight="bold" stroke="#000" stroke-width="0.25">900</text>
<text x="212.8" y="578.4" font-size="10.6" text-anchor="middle" font-family="'Liberation Sans', Arial, Helvetica, sans-serif" font-weight="bold" stroke="#000" stroke-width="0.25">950</text>
<text x="258.2" y="578.4" font-size="10.6" text-anchor="middle" font-family="'Liberation Sans', Arial, Helvetica, sans-serif" font-weight="bold" stroke="#000" stroke-width="0.25">1000</text>
<text x="303.6" y="578.4" font-size="10.6" text-anchor="middle" font-family="'Liberation Sans', Arial, Helvetica, sans-serif" font-weight="bold" stroke="#000" stroke-width="0.25">1050</text>
<text x="166.9" y="599.6" font-size="11.3" text-anchor="middle" font-family="'Liberation Sans', Arial, Helvetica, sans-serif" font-weight="bold" stroke="#000" stroke-width="0.25">244 nm Raman Shift (cm<tspan font-size="7" dy="-4.5">-1</tspan><tspan dy="4.5">)</tspan></text>
<text transform="translate(9.9,452.4) rotate(-90)" font-size="11.4" text-anchor="middle" font-family="'Liberation Sans', Arial, Helvetica, sans-serif" font-weight="bold" stroke="#000" stroke-width="0.25">Intensity (a.u.)</text>
<text x="5.1" y="342.2" font-size="19" font-family="'Liberation Sans', Arial, Helvetica, sans-serif" font-weight="bold" stroke="#000" stroke-width="0.25">b</text>
<text transform="translate(111.7,388.2) rotate(-90)" font-size="11.3" font-family="'Liberation Sans', Arial, Helvetica, sans-serif" font-weight="bold" stroke="#000" stroke-width="0.25">835</text>
<text transform="translate(211.0,370.3) rotate(-90)" font-size="11.3" font-family="'Liberation Sans', Arial, Helvetica, sans-serif" font-weight="bold" stroke="#000" stroke-width="0.25">946</text>
<text transform="translate(254.1,345.1) rotate(-90)" font-size="11.3" font-family="'Liberation Sans', Arial, Helvetica, sans-serif" font-weight="bold" stroke="#000" stroke-width="0.25">991</text>
<text transform="translate(269.2,368.7) rotate(-90)" font-size="11.3" font-family="'Liberation Sans', Arial, Helvetica, sans-serif" font-weight="bold" stroke="#000" stroke-width="0.25">1006</text>
<text x="40.6" y="410" font-size="9.7" font-family="'Liberation Sans', Arial, Helvetica, sans-serif" font-weight="bold" stroke="#000" stroke-width="0.25">x10</text>
<text x="310.9" y="422.4" font-size="11.5" font-family="'Liberation Sans', Arial, Helvetica, sans-serif" font-weight="bold" stroke="#000" stroke-width="0.25">P - 3.1 Mo</text>
<text x="310.9" y="465.2" font-size="11.5" font-family="'Liberation Sans', Arial, Helvetica, sans-serif" font-weight="bold" stroke="#000" stroke-width="0.25">P - 0.5 Mo</text>
<text x="310.9" y="505.9" font-size="11.5" font-family="'Liberation Sans', Arial, Helvetica, sans-serif" font-weight="bold" stroke="#000" stroke-width="0.25">P - 0.05 Mo</text>
<text x="312.0" y="555.0" font-size="11.5" font-family="'Liberation Sans', Arial, Helvetica, sans-serif" font-weight="bold" stroke="#000" stroke-width="0.25">Al<tspan font-size="7" dy="3.8">2</tspan><tspan dy="-3.8">O</tspan><tspan font-size="7" dy="3.8">3</tspan></text>
</svg>
</body></html>
